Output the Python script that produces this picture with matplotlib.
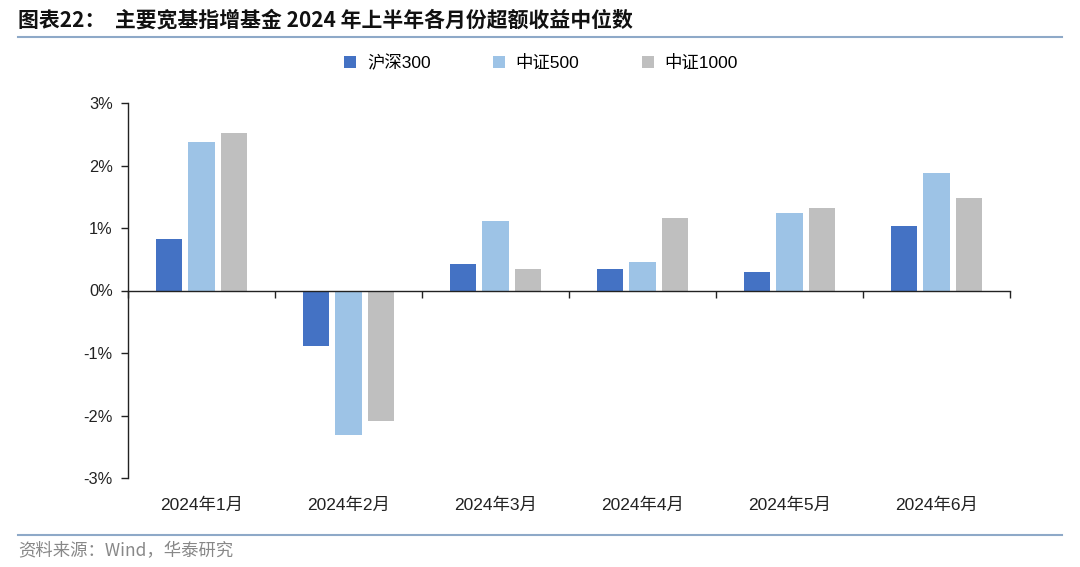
import matplotlib
matplotlib.use("Agg")
import matplotlib.pyplot as plt
import numpy as np

plt.rcParams['font.family'] = ['Liberation Sans', 'Noto Sans CJK SC', 'DejaVu Sans']

categories = ['2024年1月', '2024年2月', '2024年3月', '2024年4月', '2024年5月', '2024年6月']
series_names = ['沪深300', '中证500', '中证1000']
hs300 = [0.83, -0.88, 0.43, 0.34, 0.30, 1.04]
zz500 = [2.37, -2.31, 1.11, 0.45, 1.24, 1.88]
zz1000 = [2.52, -2.09, 0.34, 1.16, 1.32, 1.48]
yticks = [-3, -2, -1, 0, 1, 2, 3]
ytick_labels = ['-3%', '-2%', '-1%', '0%', '1%', '2%', '3%']
title = '图表22：  主要宽基指增基金 2024 年上半年各月份超额收益中位数'
source = '资料来源：Wind，华泰研究'

colors = ['#4472C4', '#9DC3E6', '#BFBFBF']

fig = plt.figure(figsize=(10.8, 5.67), dpi=100)
ax = fig.add_axes([128/1080, 1-478/567, (1010-128)/1080, (478-103)/567])

x = np.arange(len(categories))
w = 0.177
step = 0.221
for i, (vals, name, c) in enumerate(zip([hs300, zz500, zz1000], series_names, colors)):
    ax.bar(x + (i-1)*step, vals, width=w, color=c, label=name, zorder=2)

ax.set_xlim(-0.5, len(categories)-0.5)
ax.set_ylim(-3, 3)
ax.set_yticks(yticks)
ax.set_yticklabels(ytick_labels, fontsize=11.8, color='#222222')
ax.tick_params(axis='y', direction='out', length=5, width=1, color='#222222', pad=6)

for s in ['top', 'right']:
    ax.spines[s].set_visible(False)
ax.spines['left'].set_color('#222222')
ax.spines['left'].set_linewidth(1)
ax.spines['bottom'].set_position(('data', 0))
ax.spines['bottom'].set_color('#222222')
ax.spines['bottom'].set_linewidth(1)
ax.spines['bottom'].set_zorder(3)
ax.set_xticks(x)
ax.set_xticks(np.arange(len(categories)+1) - 0.5, minor=True)
ax.tick_params(axis='x', which='major', length=0, labelbottom=False)
ax.tick_params(axis='x', which='minor', direction='out', length=5, width=1, color='#222222')

sec = ax.secondary_xaxis(-0.005)
sec.set_xticks(x)
sec.set_xticklabels(categories, fontsize=12.5, color='#222222')
sec.tick_params(length=0, pad=13)
sec.spines['bottom'].set_visible(False)

leg = fig.legend(loc='center', bbox_to_anchor=(541/1080, 1-63/567), ncol=3, frameon=False,
                 fontsize=12.5, handlelength=0.7, handleheight=0.7, columnspacing=3.6, handletextpad=0.6)

fig.text(18/1080, 1-20/567, title, fontsize=15, fontweight='bold',
         family=['Noto Sans CJK SC', 'DejaVu Sans'], va='center', ha='left', color='#111111')
fig.add_artist(plt.Line2D([18/1080, 1062/1080], [1-37/567, 1-37/567], color='#8EA9C8', lw=1.5))
fig.add_artist(plt.Line2D([18/1080, 1062/1080], [1-535/567, 1-535/567], color='#8EA9C8', lw=1.5))
fig.text(18/1080, 1-551/567, source, fontsize=12.5, color='#888888', va='center', ha='left',
         family=['Noto Sans CJK SC', 'DejaVu Sans'])

fig.savefig('out.png', dpi=100)
